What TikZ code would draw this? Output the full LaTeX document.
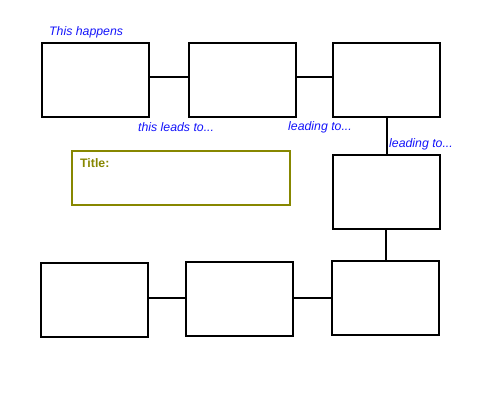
\documentclass[tikz,border=0pt]{standalone}
\usepackage{fontspec}
\newfontfamily\arialfont{Liberation Sans}
\usetikzlibrary{positioning,calc}
\definecolor{labelblue}{RGB}{20,20,250}
\definecolor{titleolive}{RGB}{135,135,0}

\begin{document}
\begin{tikzpicture}[x=1pt,y=-1pt,
  flowbox/.style={draw=black,line width=2pt,minimum width=107pt,minimum height=74pt,inner sep=0pt},
  link/.style={line width=2pt},
  steplabel/.style={font=\arialfont\itshape\fontsize{12.3}{14}\selectfont,text=labelblue,anchor=west,inner sep=0pt}]
\useasboundingbox (0,0) rectangle (500,412);
% top row, then down the right side, then back along the bottom
\node[flowbox] (b1) at (95.5,80) {};
\node[flowbox] (b2) at (242.5,80) {};
\node[flowbox] (b3) at (386.5,80) {};
\node[flowbox] (b4) at (386,192) {};
\node[flowbox] (b5) at (385,298) {};
\node[flowbox] (b6) at (239.5,299) {};
\node[flowbox] (b7) at (94.5,299.5) {};
\coordinate (j12) at ($(b1.east)+(0,-3)$);
\coordinate (j23) at ($(b2.east)+(0,-3)$);
\draw[link] (j12) -- (j12 -| b2.west);
\draw[link] (j23) -- (j23 -| b3.west);
\draw[link] (b3.south) -- (b3.south |- b4.north);
\draw[link] (b4.south) -- (b4.south |- b5.north);
\draw[link,line width=2.6pt] (b5.west) -- (b5.west -| b6.east);
\draw[link] (b5.west -| b6.west) -- (b5.west -| b7.east);
% blue captions
\node[steplabel] (cap1) at (49,32) {This happens};
\node[steplabel] (cap2) at (138,127) {this leads to...};
\node[steplabel] (cap3) at (288,127) {leading to...};
\node[steplabel] (cap4) at (389,144) {leading to...};
% title panel
\node[draw=titleolive,line width=2pt,minimum width=218pt,minimum height=54pt,inner sep=0pt] (tbox) at (181,178) {};
\node[anchor=west,inner sep=0pt,text=titleolive,font=\arialfont\bfseries\fontsize{12.3}{14}\selectfont] (ttl) at (80,163) {Title:};
\end{tikzpicture}
\end{document}
